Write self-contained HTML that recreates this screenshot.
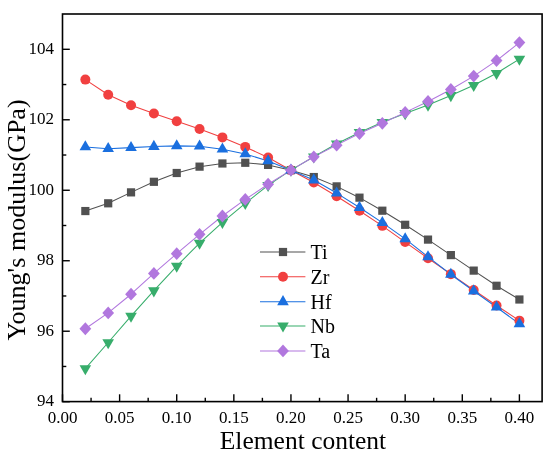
<!DOCTYPE html>
<html><head><meta charset="utf-8"><style>
html,body{margin:0;padding:0;background:#fff;}
body{width:550px;height:457px;overflow:hidden;}
svg{display:block;}
text{font-family:"Liberation Serif","Times New Roman",serif;fill:#000;}
.tl{font-size:17px;}
.xt{font-size:25.5px;}
.yt{font-size:26px;}
.lg{font-size:20px;}
</style></head><body>
<svg width="550" height="457" viewBox="0 0 550 457">
<rect width="550" height="457" fill="#fff"/>
<polyline points="85.34,211.05 108.19,203.30 131.03,192.37 153.88,181.80 176.72,172.99 199.57,166.65 222.41,163.48 245.26,162.77 268.10,164.89 290.95,170.17 313.79,177.04 336.64,186.38 359.48,197.66 382.33,210.70 405.17,224.80 428.02,239.60 450.86,255.10 473.71,270.61 496.55,285.76 519.40,299.50" fill="none" stroke="#515151" stroke-width="1.05" stroke-linejoin="round"/>
<polyline points="85.34,79.61 108.19,94.76 131.03,105.33 153.88,113.44 176.72,121.19 199.57,128.94 222.41,137.40 245.26,146.91 268.10,157.49 290.95,170.17 313.79,182.51 336.64,196.25 359.48,210.70 382.33,225.85 405.17,242.06 428.02,258.27 450.86,274.13 473.71,289.99 496.55,305.49 519.40,320.65" fill="none" stroke="#F14040" stroke-width="1.05" stroke-linejoin="round"/>
<polyline points="85.34,146.91 108.19,148.68 131.03,147.62 153.88,146.56 176.72,145.86 199.57,146.21 222.41,149.21 245.26,153.96 268.10,161.01 290.95,170.17 313.79,180.04 336.64,193.08 359.48,207.53 382.33,222.68 405.17,238.89 428.02,256.86 450.86,274.48 473.71,291.05 496.55,307.26 519.40,323.82" fill="none" stroke="#1A6FDF" stroke-width="1.05" stroke-linejoin="round"/>
<polyline points="85.34,368.57 108.19,342.50 131.03,316.07 153.88,290.69 176.72,266.03 199.57,243.12 222.41,222.33 245.26,203.30 268.10,185.33 290.95,170.17 313.79,156.78 336.64,143.74 359.48,132.47 382.33,122.25 405.17,113.44 428.02,104.98 450.86,95.46 473.71,85.24 496.55,73.26 519.40,59.17" fill="none" stroke="#37AD6B" stroke-width="1.05" stroke-linejoin="round"/>
<polyline points="85.34,328.75 108.19,312.90 131.03,294.22 153.88,273.43 176.72,253.69 199.57,234.31 222.41,215.99 245.26,199.42 268.10,184.27 290.95,170.17 313.79,156.78 336.64,145.15 359.48,133.52 382.33,123.30 405.17,112.38 428.02,101.46 450.86,89.47 473.71,76.08 496.55,60.58 519.40,42.60" fill="none" stroke="#B177DE" stroke-width="1.05" stroke-linejoin="round"/>
<rect x="81.25" y="206.95" width="8.20" height="8.20" fill="#515151"/>
<rect x="104.09" y="199.20" width="8.20" height="8.20" fill="#515151"/>
<rect x="126.93" y="188.27" width="8.20" height="8.20" fill="#515151"/>
<rect x="149.78" y="177.70" width="8.20" height="8.20" fill="#515151"/>
<rect x="172.62" y="168.89" width="8.20" height="8.20" fill="#515151"/>
<rect x="195.47" y="162.55" width="8.20" height="8.20" fill="#515151"/>
<rect x="218.31" y="159.38" width="8.20" height="8.20" fill="#515151"/>
<rect x="241.16" y="158.67" width="8.20" height="8.20" fill="#515151"/>
<rect x="264.00" y="160.79" width="8.20" height="8.20" fill="#515151"/>
<rect x="286.85" y="166.07" width="8.20" height="8.20" fill="#515151"/>
<rect x="309.69" y="172.94" width="8.20" height="8.20" fill="#515151"/>
<rect x="332.54" y="182.28" width="8.20" height="8.20" fill="#515151"/>
<rect x="355.38" y="193.56" width="8.20" height="8.20" fill="#515151"/>
<rect x="378.23" y="206.60" width="8.20" height="8.20" fill="#515151"/>
<rect x="401.07" y="220.70" width="8.20" height="8.20" fill="#515151"/>
<rect x="423.92" y="235.50" width="8.20" height="8.20" fill="#515151"/>
<rect x="446.76" y="251.00" width="8.20" height="8.20" fill="#515151"/>
<rect x="469.61" y="266.51" width="8.20" height="8.20" fill="#515151"/>
<rect x="492.45" y="281.66" width="8.20" height="8.20" fill="#515151"/>
<rect x="515.30" y="295.40" width="8.20" height="8.20" fill="#515151"/>
<circle cx="85.34" cy="79.61" r="5.0" fill="#F14040"/>
<circle cx="108.19" cy="94.76" r="5.0" fill="#F14040"/>
<circle cx="131.03" cy="105.33" r="5.0" fill="#F14040"/>
<circle cx="153.88" cy="113.44" r="5.0" fill="#F14040"/>
<circle cx="176.72" cy="121.19" r="5.0" fill="#F14040"/>
<circle cx="199.57" cy="128.94" r="5.0" fill="#F14040"/>
<circle cx="222.41" cy="137.40" r="5.0" fill="#F14040"/>
<circle cx="245.26" cy="146.91" r="5.0" fill="#F14040"/>
<circle cx="268.10" cy="157.49" r="5.0" fill="#F14040"/>
<circle cx="290.95" cy="170.17" r="5.0" fill="#F14040"/>
<circle cx="313.79" cy="182.51" r="5.0" fill="#F14040"/>
<circle cx="336.64" cy="196.25" r="5.0" fill="#F14040"/>
<circle cx="359.48" cy="210.70" r="5.0" fill="#F14040"/>
<circle cx="382.33" cy="225.85" r="5.0" fill="#F14040"/>
<circle cx="405.17" cy="242.06" r="5.0" fill="#F14040"/>
<circle cx="428.02" cy="258.27" r="5.0" fill="#F14040"/>
<circle cx="450.86" cy="274.13" r="5.0" fill="#F14040"/>
<circle cx="473.71" cy="289.99" r="5.0" fill="#F14040"/>
<circle cx="496.55" cy="305.49" r="5.0" fill="#F14040"/>
<circle cx="519.40" cy="320.65" r="5.0" fill="#F14040"/>
<polygon points="85.34,140.22 91.14,150.26 79.55,150.26" fill="#1A6FDF"/>
<polygon points="108.19,141.98 113.99,152.03 102.39,152.03" fill="#1A6FDF"/>
<polygon points="131.03,140.92 136.83,150.97 125.23,150.97" fill="#1A6FDF"/>
<polygon points="153.88,139.87 159.68,149.91 148.08,149.91" fill="#1A6FDF"/>
<polygon points="176.72,139.16 182.52,149.21 170.92,149.21" fill="#1A6FDF"/>
<polygon points="199.57,139.51 205.37,149.56 193.77,149.56" fill="#1A6FDF"/>
<polygon points="222.41,142.51 228.22,152.55 216.61,152.55" fill="#1A6FDF"/>
<polygon points="245.26,147.27 251.06,157.31 239.46,157.31" fill="#1A6FDF"/>
<polygon points="268.10,154.31 273.90,164.36 262.30,164.36" fill="#1A6FDF"/>
<polygon points="290.95,163.48 296.75,173.52 285.15,173.52" fill="#1A6FDF"/>
<polygon points="313.79,173.34 319.59,183.39 307.99,183.39" fill="#1A6FDF"/>
<polygon points="336.64,186.38 342.44,196.43 330.84,196.43" fill="#1A6FDF"/>
<polygon points="359.48,200.83 365.28,210.88 353.68,210.88" fill="#1A6FDF"/>
<polygon points="382.33,215.98 388.13,226.03 376.53,226.03" fill="#1A6FDF"/>
<polygon points="405.17,232.19 410.97,242.24 399.37,242.24" fill="#1A6FDF"/>
<polygon points="428.02,250.17 433.82,260.21 422.22,260.21" fill="#1A6FDF"/>
<polygon points="450.86,267.79 456.66,277.83 445.06,277.83" fill="#1A6FDF"/>
<polygon points="473.71,284.35 479.51,294.39 467.91,294.39" fill="#1A6FDF"/>
<polygon points="496.55,300.56 502.35,310.61 490.75,310.61" fill="#1A6FDF"/>
<polygon points="519.40,317.12 525.20,327.17 513.60,327.17" fill="#1A6FDF"/>
<polygon points="85.34,375.27 91.14,365.23 79.55,365.23" fill="#37AD6B"/>
<polygon points="108.19,349.19 113.99,339.15 102.39,339.15" fill="#37AD6B"/>
<polygon points="131.03,322.76 136.83,312.72 125.23,312.72" fill="#37AD6B"/>
<polygon points="153.88,297.39 159.68,287.35 148.08,287.35" fill="#37AD6B"/>
<polygon points="176.72,272.72 182.52,262.68 170.92,262.68" fill="#37AD6B"/>
<polygon points="199.57,249.82 205.37,239.77 193.77,239.77" fill="#37AD6B"/>
<polygon points="222.41,229.03 228.22,218.98 216.61,218.98" fill="#37AD6B"/>
<polygon points="245.26,210.00 251.06,199.95 239.46,199.95" fill="#37AD6B"/>
<polygon points="268.10,192.02 273.90,181.98 262.30,181.98" fill="#37AD6B"/>
<polygon points="290.95,176.87 296.75,166.82 285.15,166.82" fill="#37AD6B"/>
<polygon points="313.79,163.48 319.59,153.43 307.99,153.43" fill="#37AD6B"/>
<polygon points="336.64,150.44 342.44,140.39 330.84,140.39" fill="#37AD6B"/>
<polygon points="359.48,139.16 365.28,129.12 353.68,129.12" fill="#37AD6B"/>
<polygon points="382.33,128.94 388.13,118.90 376.53,118.90" fill="#37AD6B"/>
<polygon points="405.17,120.13 410.97,110.09 399.37,110.09" fill="#37AD6B"/>
<polygon points="428.02,111.68 433.82,101.63 422.22,101.63" fill="#37AD6B"/>
<polygon points="450.86,102.16 456.66,92.12 445.06,92.12" fill="#37AD6B"/>
<polygon points="473.71,91.94 479.51,81.90 467.91,81.90" fill="#37AD6B"/>
<polygon points="496.55,79.96 502.35,69.91 490.75,69.91" fill="#37AD6B"/>
<polygon points="519.40,65.86 525.20,55.82 513.60,55.82" fill="#37AD6B"/>
<polygon points="85.34,322.35 91.25,328.75 85.34,335.15 79.44,328.75" fill="#B177DE"/>
<polygon points="108.19,306.50 114.09,312.90 108.19,319.30 102.29,312.90" fill="#B177DE"/>
<polygon points="131.03,287.82 136.93,294.22 131.03,300.62 125.13,294.22" fill="#B177DE"/>
<polygon points="153.88,267.03 159.78,273.43 153.88,279.83 147.98,273.43" fill="#B177DE"/>
<polygon points="176.72,247.29 182.62,253.69 176.72,260.09 170.82,253.69" fill="#B177DE"/>
<polygon points="199.57,227.91 205.47,234.31 199.57,240.71 193.67,234.31" fill="#B177DE"/>
<polygon points="222.41,209.59 228.31,215.99 222.41,222.39 216.51,215.99" fill="#B177DE"/>
<polygon points="245.26,193.02 251.16,199.42 245.26,205.82 239.36,199.42" fill="#B177DE"/>
<polygon points="268.10,177.87 274.00,184.27 268.10,190.67 262.20,184.27" fill="#B177DE"/>
<polygon points="290.95,163.77 296.85,170.17 290.95,176.57 285.05,170.17" fill="#B177DE"/>
<polygon points="313.79,150.38 319.69,156.78 313.79,163.18 307.89,156.78" fill="#B177DE"/>
<polygon points="336.64,138.75 342.54,145.15 336.64,151.55 330.74,145.15" fill="#B177DE"/>
<polygon points="359.48,127.12 365.38,133.52 359.48,139.92 353.58,133.52" fill="#B177DE"/>
<polygon points="382.33,116.90 388.23,123.30 382.33,129.70 376.43,123.30" fill="#B177DE"/>
<polygon points="405.17,105.98 411.07,112.38 405.17,118.78 399.27,112.38" fill="#B177DE"/>
<polygon points="428.02,95.06 433.92,101.46 428.02,107.86 422.12,101.46" fill="#B177DE"/>
<polygon points="450.86,83.07 456.76,89.47 450.86,95.87 444.96,89.47" fill="#B177DE"/>
<polygon points="473.71,69.68 479.61,76.08 473.71,82.48 467.81,76.08" fill="#B177DE"/>
<polygon points="496.55,54.18 502.45,60.58 496.55,66.98 490.65,60.58" fill="#B177DE"/>
<polygon points="519.40,36.20 525.30,42.60 519.40,49.00 513.50,42.60" fill="#B177DE"/>
<rect x="62.5" y="14.0" width="479.6" height="387.6" fill="none" stroke="#000" stroke-width="1.6"/>
<line x1="62.50" y1="401.6" x2="62.50" y2="394.3" stroke="#000" stroke-width="1.4"/>
<text x="62.50" y="423" text-anchor="middle" class="tl">0.00</text>
<line x1="119.61" y1="401.6" x2="119.61" y2="394.3" stroke="#000" stroke-width="1.4"/>
<text x="119.61" y="423" text-anchor="middle" class="tl">0.05</text>
<line x1="176.72" y1="401.6" x2="176.72" y2="394.3" stroke="#000" stroke-width="1.4"/>
<text x="176.72" y="423" text-anchor="middle" class="tl">0.10</text>
<line x1="233.84" y1="401.6" x2="233.84" y2="394.3" stroke="#000" stroke-width="1.4"/>
<text x="233.84" y="423" text-anchor="middle" class="tl">0.15</text>
<line x1="290.95" y1="401.6" x2="290.95" y2="394.3" stroke="#000" stroke-width="1.4"/>
<text x="290.95" y="423" text-anchor="middle" class="tl">0.20</text>
<line x1="348.06" y1="401.6" x2="348.06" y2="394.3" stroke="#000" stroke-width="1.4"/>
<text x="348.06" y="423" text-anchor="middle" class="tl">0.25</text>
<line x1="405.17" y1="401.6" x2="405.17" y2="394.3" stroke="#000" stroke-width="1.4"/>
<text x="405.17" y="423" text-anchor="middle" class="tl">0.30</text>
<line x1="462.29" y1="401.6" x2="462.29" y2="394.3" stroke="#000" stroke-width="1.4"/>
<text x="462.29" y="423" text-anchor="middle" class="tl">0.35</text>
<line x1="519.40" y1="401.6" x2="519.40" y2="394.3" stroke="#000" stroke-width="1.4"/>
<text x="519.40" y="423" text-anchor="middle" class="tl">0.40</text>
<line x1="91.06" y1="401.6" x2="91.06" y2="397.8" stroke="#000" stroke-width="1.4"/>
<line x1="148.17" y1="401.6" x2="148.17" y2="397.8" stroke="#000" stroke-width="1.4"/>
<line x1="205.28" y1="401.6" x2="205.28" y2="397.8" stroke="#000" stroke-width="1.4"/>
<line x1="262.39" y1="401.6" x2="262.39" y2="397.8" stroke="#000" stroke-width="1.4"/>
<line x1="319.51" y1="401.6" x2="319.51" y2="397.8" stroke="#000" stroke-width="1.4"/>
<line x1="376.62" y1="401.6" x2="376.62" y2="397.8" stroke="#000" stroke-width="1.4"/>
<line x1="433.73" y1="401.6" x2="433.73" y2="397.8" stroke="#000" stroke-width="1.4"/>
<line x1="490.84" y1="401.6" x2="490.84" y2="397.8" stroke="#000" stroke-width="1.4"/>
<line x1="62.5" y1="401.70" x2="69.8" y2="401.70" stroke="#000" stroke-width="1.4"/>
<text x="54" y="406.40" text-anchor="end" class="tl">94</text>
<line x1="62.5" y1="331.22" x2="69.8" y2="331.22" stroke="#000" stroke-width="1.4"/>
<text x="54" y="335.92" text-anchor="end" class="tl">96</text>
<line x1="62.5" y1="260.74" x2="69.8" y2="260.74" stroke="#000" stroke-width="1.4"/>
<text x="54" y="265.44" text-anchor="end" class="tl">98</text>
<line x1="62.5" y1="190.26" x2="69.8" y2="190.26" stroke="#000" stroke-width="1.4"/>
<text x="54" y="194.96" text-anchor="end" class="tl">100</text>
<line x1="62.5" y1="119.78" x2="69.8" y2="119.78" stroke="#000" stroke-width="1.4"/>
<text x="54" y="124.48" text-anchor="end" class="tl">102</text>
<line x1="62.5" y1="49.30" x2="69.8" y2="49.30" stroke="#000" stroke-width="1.4"/>
<text x="54" y="54.00" text-anchor="end" class="tl">104</text>
<line x1="62.5" y1="366.46" x2="66.3" y2="366.46" stroke="#000" stroke-width="1.4"/>
<line x1="62.5" y1="295.98" x2="66.3" y2="295.98" stroke="#000" stroke-width="1.4"/>
<line x1="62.5" y1="225.50" x2="66.3" y2="225.50" stroke="#000" stroke-width="1.4"/>
<line x1="62.5" y1="155.02" x2="66.3" y2="155.02" stroke="#000" stroke-width="1.4"/>
<line x1="62.5" y1="84.54" x2="66.3" y2="84.54" stroke="#000" stroke-width="1.4"/>
<text x="303" y="448.7" text-anchor="middle" class="xt">Element content</text>
<text transform="translate(24.7,220) rotate(-90)" text-anchor="middle" class="yt">Young's modulus(GPa)</text>
<line x1="260" y1="252.0" x2="305.4" y2="252.0" stroke="#515151" stroke-width="1.05"/>
<rect x="278.90" y="247.90" width="8.20" height="8.20" fill="#515151"/>
<text x="310.5" y="258.8" class="lg">Ti</text>
<line x1="260" y1="276.8" x2="305.4" y2="276.8" stroke="#F14040" stroke-width="1.05"/>
<circle cx="283.00" cy="276.80" r="5.0" fill="#F14040"/>
<text x="310.5" y="283.6" class="lg">Zr</text>
<line x1="260" y1="301.8" x2="305.4" y2="301.8" stroke="#1A6FDF" stroke-width="1.05"/>
<polygon points="283.00,295.10 288.80,305.15 277.20,305.15" fill="#1A6FDF"/>
<text x="310.5" y="308.6" class="lg">Hf</text>
<line x1="260" y1="325.9" x2="305.4" y2="325.9" stroke="#37AD6B" stroke-width="1.05"/>
<polygon points="283.00,332.60 288.80,322.55 277.20,322.55" fill="#37AD6B"/>
<text x="310.5" y="332.7" class="lg">Nb</text>
<line x1="260" y1="350.9" x2="305.4" y2="350.9" stroke="#B177DE" stroke-width="1.05"/>
<polygon points="283.00,344.50 288.90,350.90 283.00,357.30 277.10,350.90" fill="#B177DE"/>
<text x="310.5" y="357.7" class="lg">Ta</text>
</svg>
</body></html>
